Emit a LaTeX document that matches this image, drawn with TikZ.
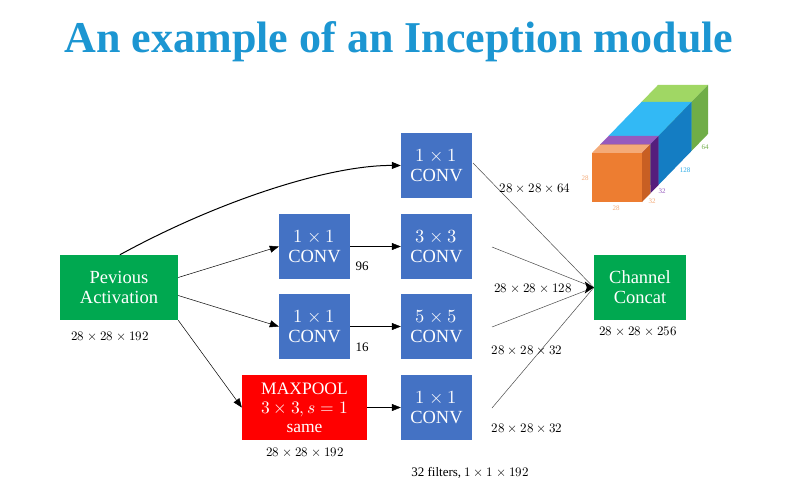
\documentclass[tikz,border=0pt]{standalone}
\usepackage{fontspec}
\usepackage{unicode-math}
\setmainfont{Liberation Serif}
\usetikzlibrary{arrows.meta}
\definecolor{ttl}{RGB}{28,150,210}
\definecolor{bbox}{RGB}{68,114,196}
\definecolor{gbox}{RGB}{0,168,80}
\definecolor{rbox}{RGB}{255,0,0}
\definecolor{oF}{RGB}{237,125,49}\definecolor{oT}{RGB}{244,170,120}\definecolor{oS}{RGB}{200,95,35}
\definecolor{pF}{RGB}{112,48,160}\definecolor{pT}{RGB}{150,90,190}\definecolor{pS}{RGB}{85,30,125}
\definecolor{bF}{RGB}{40,170,230}\definecolor{bT}{RGB}{50,185,245}\definecolor{bS}{RGB}{20,125,195}
\definecolor{gF}{RGB}{146,208,80}\definecolor{gT}{RGB}{160,215,100}\definecolor{gS}{RGB}{112,173,71}
\begin{document}
\begin{tikzpicture}[x=1pt,y=-1pt,
  blk/.style={draw=none,minimum width=71pt,minimum height=65pt,inner sep=0pt,align=center,text=white,font=\fontsize{18.5}{20}\selectfont},
  lbl/.style={font=\fontsize{13}{15}\selectfont,inner sep=0pt},
  arr/.style={-{Triangle[length=9pt,width=7pt]},black},
  thin/.style={draw=black!70,line width=0.5pt},
  cl/.style={font=\fontsize{7}{8}\selectfont,inner sep=0pt}]
\useasboundingbox (0,0) rectangle (799,493);
\fill[white] (0,0) rectangle (799,493);
\node[text=ttl,font=\fontsize{44}{48}\bfseries\selectfont] (title) at (399,42) {An example of an Inception module};
\node[blk,fill=gbox,minimum width=118pt] (prev) at (119,287.5) {Pevious\\Activation};
\node[blk,fill=bbox] (c0) at (436.5,165.5) {$1\times1$\\CONV};
\node[blk,fill=bbox] (a1) at (314.5,246.5) {$1\times1$\\CONV};
\node[blk,fill=bbox] (c1) at (436.5,246.5) {$3\times3$\\CONV};
\node[blk,fill=bbox] (a2) at (314.5,326.5) {$1\times1$\\CONV};
\node[blk,fill=bbox] (c2) at (436.5,326.5) {$5\times5$\\CONV};
\node[blk,fill=rbox,minimum width=125pt,font=\fontsize{17.5}{19}\selectfont] (mp) at (304.5,407.5) {MAXPOOL\\$3\times3, s=1$\\same};
\node[blk,fill=bbox] (c3) at (436.5,407.5) {$1\times1$\\CONV};
\node[blk,fill=gbox,minimum width=92pt] (cc) at (640,287.5) {Channel\\Concat};
\coordinate (cin) at (cc.west);
\draw[arr,line width=1pt] (prev.north west)++(60,0) .. controls (220,200) and (330,165) .. (c0.west);
\draw[arr,thin,draw=black] (prev.east)++(0,-10) -- (a1.west);
\draw[arr,thin,draw=black] (prev.east)++(0,8) -- (a2.west);
\draw[arr,thin,draw=black] (prev.south east) -- (mp.west);
\draw[arr,thin,draw=black] (a1.east) -- (c1.west);
\draw[arr,thin,draw=black] (a2.east) -- (c2.west);
\draw[arr,thin,draw=black] (mp.east) -- (c3.west);
\coordinate (s0) at (473,163);
\coordinate (s1) at (492,247);
\coordinate (s2) at (492,327);
\coordinate (s3) at (492,408);
\draw[thin] (s0) -- (cin);
\draw[thin] (s1) -- (cin);
\draw[thin] (s2) -- (cin);
\draw[thin] (s3) -- (cin);
\fill[black] (cin) -- ++(-9,-6) -- ++(2,6) -- ++(-2,6) -- cycle;
\node[lbl] (l0) at (110,336) {$28\times28\times192$};
\node[lbl] (l1) at (535,188) {$28\times28\times64$};
\node[lbl] (l2) at (533,288) {$28\times28\times128$};
\node[lbl] (l3) at (527,350) {$28\times28\times32$};
\node[lbl] (l4) at (527,428) {$28\times28\times32$};
\node[lbl] (l5) at (638,331) {$28\times28\times256$};
\node[lbl] (l6) at (305,452) {$28\times28\times192$};
\node[lbl] (l7) at (362,266) {96};
\node[lbl] (l8) at (362,347) {16};
\node[lbl] (l9) at (470,473) {32 filters, $1\times1\times192$};
\def\prism#1#2#3#4#5{%
  \pgfmathsetmacro\ax{592+0.258*#1}\pgfmathsetmacro\ay{153-0.266*#1}
  \pgfmathsetmacro\bx{592+0.258*#2}\pgfmathsetmacro\by{153-0.266*#2}
  \fill[#4] (\ax,\ay) -- (\bx,\by) -- (\bx+50,\by) -- (\ax+50,\ay) -- cycle;
  \fill[#5] (\ax+50,\ay) -- (\bx+50,\by) -- (\bx+50,\by+49) -- (\ax+50,\ay+49) -- cycle;
  \fill[#3] (\ax,\ay) rectangle (\ax+50,\ay+49);}
\prism{192}{256}{gF}{gT}{gS}
\prism{64}{192}{bF}{bT}{bS}
\prism{32}{64}{pF}{pT}{pS}
\prism{0}{32}{oF}{oT}{oS}
\node[cl,text=oT] (k1) at (585,178) {28};
\node[cl,text=oT] (k2) at (616,208) {28};
\node[cl,text=oT] (k3) at (652,201) {32};
\node[cl,text=pT] (k4) at (662,191) {32};
\node[cl,text=bF] (k5) at (685,170) {128};
\node[cl,text=gS] (k6) at (705,147) {64};
\end{tikzpicture}
\end{document}
